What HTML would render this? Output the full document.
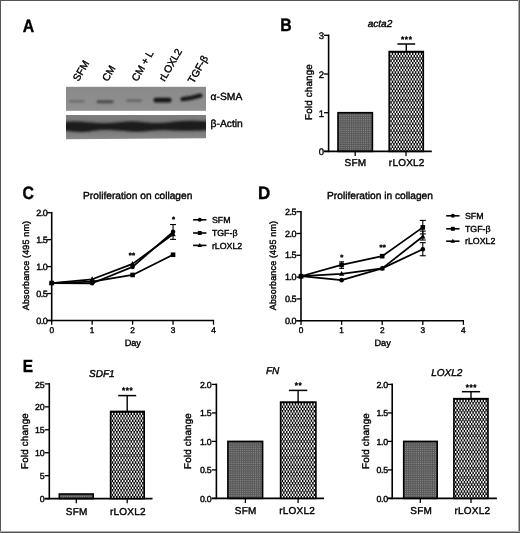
<!DOCTYPE html>
<html lang="en"><head><meta charset="utf-8"><title>Figure</title>
<style>html,body{margin:0;padding:0;background:#fff}svg{display:block}text{font-family:"Liberation Sans",Arial,Helvetica,sans-serif;fill:#000;stroke:#000;stroke-width:0.38px;text-rendering:geometricPrecision}</style></head><body>
<svg width="520" height="533" viewBox="0 0 520 533">
<defs>
<filter id="b1" x="-20%" y="-100%" width="140%" height="300%"><feGaussianBlur stdDeviation="1.1"/></filter>
<filter id="b2" x="-20%" y="-100%" width="140%" height="300%"><feGaussianBlur stdDeviation="0.8"/></filter>
<filter id="b3" x="-5%" y="-50%" width="110%" height="200%"><feGaussianBlur stdDeviation="1.0"/></filter>
<linearGradient id="gu" x1="0" y1="0" x2="0" y2="1"><stop offset="0" stop-color="#8a8a8a"/><stop offset="1" stop-color="#909090"/></linearGradient>
<linearGradient id="gl" x1="0" y1="0" x2="0" y2="1"><stop offset="0" stop-color="#7e7e7e"/><stop offset="0.5" stop-color="#707070"/><stop offset="1" stop-color="#8a8a8a"/></linearGradient>
<clipPath id="cu"><rect x="66" y="86.8" width="140" height="24"/></clipPath>
<clipPath id="cl"><path d="M66 115 L206 115 L206 138.3 L66 139.3 Z"/></clipPath>
</defs>
<rect width="520" height="533" fill="#fff"/>
<text transform="translate(22.80 31.80) scale(0.88 1)" font-size="18" font-weight="bold" stroke-width="0.1">A</text>
<rect x="66" y="86.8" width="140" height="24" fill="url(#gu)"/>
<g clip-path="url(#cu)">
<rect x="69" y="100" width="15.5" height="2.6" rx="1.3" fill="#6c6c6c" filter="url(#b1)"/>
<rect x="96.5" y="100.2" width="17" height="3" rx="1.5" fill="#4a4a4a" filter="url(#b1)"/>
<rect x="126" y="99.4" width="16" height="2.4" rx="1.2" fill="#606060" filter="url(#b1)"/>
<rect x="153.5" y="97.8" width="18" height="4.6" rx="2.2" fill="#141414" filter="url(#b2)"/>
<path d="M182.5 99.2 Q191 98.6 200.5 95.6" stroke="#141414" stroke-width="4.2" stroke-linecap="round" fill="none" filter="url(#b2)"/>
</g>
<path d="M66 115 L206 115 L206 138.3 L66 139.3 Z" fill="url(#gl)"/>
<g clip-path="url(#cl)">
<path d="M62 122 Q76 120.8 90 122.4 T118 122.4 T146 122.4 T174 121.8 T210 121.6 L210 130 Q192 131.4 176 130.4 T148 131 T120 130.6 T92 131 T62 130 Z" fill="#1c1c1c" filter="url(#b3)"/>
</g>
<text x="78.60" y="81.90" font-size="10.3" text-anchor="start" font-weight="normal" font-style="normal" transform="rotate(-60 78.60 81.90)">SFM</text>
<text x="107.70" y="81.90" font-size="10.3" text-anchor="start" font-weight="normal" font-style="normal" transform="rotate(-60 107.70 81.90)">CM</text>
<text x="137.20" y="81.90" font-size="10.3" text-anchor="start" font-weight="normal" font-style="normal" transform="rotate(-60 137.20 81.90)">CM + L</text>
<text x="164.60" y="81.90" font-size="10.3" text-anchor="start" font-weight="normal" font-style="normal" transform="rotate(-60 164.60 81.90)">rLOXL2</text>
<text x="193.50" y="84.00" font-size="10.3" text-anchor="start" font-weight="normal" font-style="normal" transform="rotate(-60 193.50 84.00)">TGF-β</text>
<text x="210.60" y="100.00" font-size="10.3" text-anchor="start" font-weight="normal" font-style="normal">α-SMA</text>
<text x="210.60" y="127.40" font-size="10.3" text-anchor="start" font-weight="normal" font-style="normal">β-Actin</text>
<text transform="translate(280.20 31.40) scale(0.88 1)" font-size="18" font-weight="bold" stroke-width="0.1">B</text>
<clipPath id="bc1"><rect x="338.80" y="113.50" width="32.80" height="37.90"/></clipPath>
<rect x="338.00" y="112.70" width="34.40" height="38.70" fill="#5a5a5a" stroke="#000" stroke-width="1.6"/>
<g clip-path="url(#bc1)" stroke="#939393" stroke-width="1.1" stroke-linecap="round" stroke-dasharray="0 2.15">
<line x1="337.62" y1="115.33" x2="375.35" y2="115.33"/>
<line x1="337.62" y1="117.48" x2="375.35" y2="117.48"/>
<line x1="337.62" y1="119.63" x2="375.35" y2="119.63"/>
<line x1="337.62" y1="121.78" x2="375.35" y2="121.78"/>
<line x1="337.62" y1="123.93" x2="375.35" y2="123.93"/>
<line x1="337.62" y1="126.08" x2="375.35" y2="126.08"/>
<line x1="337.62" y1="128.23" x2="375.35" y2="128.23"/>
<line x1="337.62" y1="130.38" x2="375.35" y2="130.38"/>
<line x1="337.62" y1="132.53" x2="375.35" y2="132.53"/>
<line x1="337.62" y1="134.68" x2="375.35" y2="134.68"/>
<line x1="337.62" y1="136.83" x2="375.35" y2="136.83"/>
<line x1="337.62" y1="138.98" x2="375.35" y2="138.98"/>
<line x1="337.62" y1="141.13" x2="375.35" y2="141.13"/>
<line x1="337.62" y1="143.28" x2="375.35" y2="143.28"/>
<line x1="337.62" y1="145.43" x2="375.35" y2="145.43"/>
<line x1="337.62" y1="147.58" x2="375.35" y2="147.58"/>
<line x1="337.62" y1="149.73" x2="375.35" y2="149.73"/>
<line x1="337.62" y1="151.88" x2="375.35" y2="151.88"/>
</g>
<clipPath id="bc2"><rect x="390.00" y="52.35" width="32.50" height="99.05"/></clipPath>
<rect x="389.20" y="51.55" width="34.10" height="99.85" fill="#000" stroke="#000" stroke-width="1.6"/>
<g clip-path="url(#bc2)" stroke="#fff" stroke-width="2.20" stroke-dasharray="1.450 1.450">
<line x1="387.40" y1="53.86" x2="427.00" y2="53.86"/>
<line x1="388.85" y1="56.18" x2="427.00" y2="56.18"/>
<line x1="387.40" y1="58.50" x2="427.00" y2="58.50"/>
<line x1="388.85" y1="60.82" x2="427.00" y2="60.82"/>
<line x1="387.40" y1="63.14" x2="427.00" y2="63.14"/>
<line x1="388.85" y1="65.46" x2="427.00" y2="65.46"/>
<line x1="387.40" y1="67.78" x2="427.00" y2="67.78"/>
<line x1="388.85" y1="70.10" x2="427.00" y2="70.10"/>
<line x1="387.40" y1="72.42" x2="427.00" y2="72.42"/>
<line x1="388.85" y1="74.74" x2="427.00" y2="74.74"/>
<line x1="387.40" y1="77.06" x2="427.00" y2="77.06"/>
<line x1="388.85" y1="79.38" x2="427.00" y2="79.38"/>
<line x1="387.40" y1="81.70" x2="427.00" y2="81.70"/>
<line x1="388.85" y1="84.02" x2="427.00" y2="84.02"/>
<line x1="387.40" y1="86.34" x2="427.00" y2="86.34"/>
<line x1="388.85" y1="88.66" x2="427.00" y2="88.66"/>
<line x1="387.40" y1="90.98" x2="427.00" y2="90.98"/>
<line x1="388.85" y1="93.30" x2="427.00" y2="93.30"/>
<line x1="387.40" y1="95.62" x2="427.00" y2="95.62"/>
<line x1="388.85" y1="97.94" x2="427.00" y2="97.94"/>
<line x1="387.40" y1="100.26" x2="427.00" y2="100.26"/>
<line x1="388.85" y1="102.58" x2="427.00" y2="102.58"/>
<line x1="387.40" y1="104.90" x2="427.00" y2="104.90"/>
<line x1="388.85" y1="107.22" x2="427.00" y2="107.22"/>
<line x1="387.40" y1="109.54" x2="427.00" y2="109.54"/>
<line x1="388.85" y1="111.86" x2="427.00" y2="111.86"/>
<line x1="387.40" y1="114.18" x2="427.00" y2="114.18"/>
<line x1="388.85" y1="116.50" x2="427.00" y2="116.50"/>
<line x1="387.40" y1="118.82" x2="427.00" y2="118.82"/>
<line x1="388.85" y1="121.14" x2="427.00" y2="121.14"/>
<line x1="387.40" y1="123.46" x2="427.00" y2="123.46"/>
<line x1="388.85" y1="125.78" x2="427.00" y2="125.78"/>
<line x1="387.40" y1="128.10" x2="427.00" y2="128.10"/>
<line x1="388.85" y1="130.42" x2="427.00" y2="130.42"/>
<line x1="387.40" y1="132.74" x2="427.00" y2="132.74"/>
<line x1="388.85" y1="135.06" x2="427.00" y2="135.06"/>
<line x1="387.40" y1="137.38" x2="427.00" y2="137.38"/>
<line x1="388.85" y1="139.70" x2="427.00" y2="139.70"/>
<line x1="387.40" y1="142.02" x2="427.00" y2="142.02"/>
<line x1="388.85" y1="144.34" x2="427.00" y2="144.34"/>
<line x1="387.40" y1="146.66" x2="427.00" y2="146.66"/>
<line x1="388.85" y1="148.98" x2="427.00" y2="148.98"/>
<line x1="387.40" y1="151.30" x2="427.00" y2="151.30"/>
<line x1="388.85" y1="153.62" x2="427.00" y2="153.62"/>
</g>
<line x1="406.30" y1="44.00" x2="406.30" y2="51.60" stroke="#000" stroke-width="1.4" stroke-linecap="butt"/>
<line x1="397.40" y1="44.00" x2="415.20" y2="44.00" stroke="#000" stroke-width="1.5" stroke-linecap="butt"/>
<text x="406.77" y="42.14" font-size="8.0" text-anchor="middle" font-weight="bold" font-style="normal" letter-spacing="0.65" stroke-width="0.7">***</text>
<line x1="328.60" y1="34.50" x2="328.60" y2="152.20" stroke="#000" stroke-width="1.6" stroke-linecap="butt"/>
<line x1="324.00" y1="151.40" x2="431.80" y2="151.40" stroke="#000" stroke-width="1.6" stroke-linecap="butt"/>
<line x1="324.00" y1="151.40" x2="328.60" y2="151.40" stroke="#000" stroke-width="1.3" stroke-linecap="butt"/>
<text x="324.00" y="155.25" font-size="9.5" text-anchor="end" font-weight="normal" font-style="normal">0</text>
<line x1="324.00" y1="112.70" x2="328.60" y2="112.70" stroke="#000" stroke-width="1.3" stroke-linecap="butt"/>
<text x="324.00" y="116.55" font-size="9.5" text-anchor="end" font-weight="normal" font-style="normal">1</text>
<line x1="324.00" y1="74.00" x2="328.60" y2="74.00" stroke="#000" stroke-width="1.3" stroke-linecap="butt"/>
<text x="324.00" y="77.85" font-size="9.5" text-anchor="end" font-weight="normal" font-style="normal">2</text>
<line x1="324.00" y1="35.30" x2="328.60" y2="35.30" stroke="#000" stroke-width="1.3" stroke-linecap="butt"/>
<text x="324.00" y="39.15" font-size="9.5" text-anchor="end" font-weight="normal" font-style="normal">3</text>
<line x1="355.20" y1="151.40" x2="355.20" y2="156.00" stroke="#000" stroke-width="1.3" stroke-linecap="butt"/>
<text x="355.40" y="166.40" font-size="10" text-anchor="middle" font-weight="normal" font-style="normal" letter-spacing="0.2">SFM</text>
<line x1="406.00" y1="151.40" x2="406.00" y2="156.00" stroke="#000" stroke-width="1.3" stroke-linecap="butt"/>
<text x="406.70" y="166.40" font-size="10" text-anchor="middle" font-weight="normal" font-style="normal" letter-spacing="0.2">rLOXL2</text>
<text x="380.00" y="26.60" font-size="10" text-anchor="middle" font-weight="normal" font-style="italic">acta2</text>
<text x="312.00" y="92.00" font-size="9.8" text-anchor="middle" font-weight="normal" font-style="normal" transform="rotate(-90 312.00 92.00)" letter-spacing="0.17">Fold change</text>
<text transform="translate(22.40 199.40) scale(0.88 1)" font-size="18" font-weight="bold" stroke-width="0.1">C</text>
<line x1="51.70" y1="211.90" x2="51.70" y2="321.30" stroke="#000" stroke-width="1.6" stroke-linecap="butt"/>
<line x1="47.10" y1="320.50" x2="214.10" y2="320.50" stroke="#000" stroke-width="1.6" stroke-linecap="butt"/>
<line x1="47.10" y1="320.50" x2="51.70" y2="320.50" stroke="#000" stroke-width="1.3" stroke-linecap="butt"/>
<text x="47.20" y="323.60" font-size="9.0" text-anchor="end" font-weight="normal" font-style="normal" letter-spacing="-0.55">0.0</text>
<line x1="47.10" y1="293.55" x2="51.70" y2="293.55" stroke="#000" stroke-width="1.3" stroke-linecap="butt"/>
<text x="47.20" y="296.65" font-size="9.0" text-anchor="end" font-weight="normal" font-style="normal" letter-spacing="-0.55">0.5</text>
<line x1="47.10" y1="266.60" x2="51.70" y2="266.60" stroke="#000" stroke-width="1.3" stroke-linecap="butt"/>
<text x="47.20" y="269.70" font-size="9.0" text-anchor="end" font-weight="normal" font-style="normal" letter-spacing="-0.55">1.0</text>
<line x1="47.10" y1="239.65" x2="51.70" y2="239.65" stroke="#000" stroke-width="1.3" stroke-linecap="butt"/>
<text x="47.20" y="242.75" font-size="9.0" text-anchor="end" font-weight="normal" font-style="normal" letter-spacing="-0.55">1.5</text>
<line x1="47.10" y1="212.70" x2="51.70" y2="212.70" stroke="#000" stroke-width="1.3" stroke-linecap="butt"/>
<text x="47.20" y="215.80" font-size="9.0" text-anchor="end" font-weight="normal" font-style="normal" letter-spacing="-0.55">2.0</text>
<line x1="51.70" y1="320.50" x2="51.70" y2="324.70" stroke="#000" stroke-width="1.3" stroke-linecap="butt"/>
<text x="51.70" y="333.10" font-size="8.3" text-anchor="middle" font-weight="normal" font-style="normal">0</text>
<line x1="92.15" y1="320.50" x2="92.15" y2="324.70" stroke="#000" stroke-width="1.3" stroke-linecap="butt"/>
<text x="92.15" y="333.10" font-size="8.3" text-anchor="middle" font-weight="normal" font-style="normal">1</text>
<line x1="132.60" y1="320.50" x2="132.60" y2="324.70" stroke="#000" stroke-width="1.3" stroke-linecap="butt"/>
<text x="132.60" y="333.10" font-size="8.3" text-anchor="middle" font-weight="normal" font-style="normal">2</text>
<line x1="173.05" y1="320.50" x2="173.05" y2="324.70" stroke="#000" stroke-width="1.3" stroke-linecap="butt"/>
<text x="173.05" y="333.10" font-size="8.3" text-anchor="middle" font-weight="normal" font-style="normal">3</text>
<line x1="213.50" y1="320.50" x2="213.50" y2="324.70" stroke="#000" stroke-width="1.3" stroke-linecap="butt"/>
<text x="213.50" y="333.10" font-size="8.3" text-anchor="middle" font-weight="normal" font-style="normal">4</text>
<polyline points="51.70,283.04 92.15,281.69 132.60,274.95 173.05,254.74" fill="none" stroke="#000" stroke-width="1.75" stroke-linejoin="round"/>
<polyline points="51.70,283.04 92.15,283.31 132.60,266.87 173.05,231.83" fill="none" stroke="#000" stroke-width="1.75" stroke-linejoin="round"/>
<polyline points="51.70,283.04 92.15,279.27 132.60,263.90 173.05,234.26" fill="none" stroke="#000" stroke-width="1.75" stroke-linejoin="round"/>
<line x1="173.05" y1="224.56" x2="173.05" y2="239.38" stroke="#000" stroke-width="1.1" stroke-linecap="butt"/>
<line x1="170.05" y1="224.56" x2="176.05" y2="224.56" stroke="#000" stroke-width="1.1" stroke-linecap="butt"/>
<line x1="170.05" y1="239.38" x2="176.05" y2="239.38" stroke="#000" stroke-width="1.1" stroke-linecap="butt"/>
<rect x="49.40" y="280.74" width="4.60" height="4.60" fill="#000"/>
<rect x="89.85" y="279.39" width="4.60" height="4.60" fill="#000"/>
<rect x="130.30" y="272.65" width="4.60" height="4.60" fill="#000"/>
<rect x="170.75" y="252.44" width="4.60" height="4.60" fill="#000"/>
<circle cx="51.70" cy="283.04" r="2.30" fill="#000"/>
<circle cx="92.15" cy="283.31" r="2.30" fill="#000"/>
<circle cx="132.60" cy="266.87" r="2.30" fill="#000"/>
<circle cx="173.05" cy="231.83" r="2.30" fill="#000"/>
<path d="M51.70 280.14 L54.40 284.94 L49.00 284.94 Z" fill="#000"/>
<path d="M92.15 276.37 L94.85 281.17 L89.45 281.17 Z" fill="#000"/>
<path d="M132.60 261.00 L135.30 265.80 L129.90 265.80 Z" fill="#000"/>
<path d="M173.05 231.36 L175.75 236.16 L170.35 236.16 Z" fill="#000"/>
<text x="132.13" y="257.75" font-size="7.8" text-anchor="middle" font-weight="bold" font-style="normal" letter-spacing="0.37" stroke-width="0.7">**</text>
<text x="173.63" y="221.65" font-size="7.8" text-anchor="middle" font-weight="bold" font-style="normal" letter-spacing="0.37" stroke-width="0.7">*</text>
<text x="137.70" y="198.80" font-size="10.2" text-anchor="middle" font-weight="normal" font-style="normal">Proliferation on collagen</text>
<text x="28.90" y="265.50" font-size="9.0" text-anchor="middle" font-weight="normal" font-style="normal" transform="rotate(-90 28.90 265.50)" letter-spacing="0.15">Absorbance (495 nm)</text>
<text x="132.80" y="346.20" font-size="9.2" text-anchor="middle" font-weight="normal" font-style="normal">Day</text>
<line x1="193.10" y1="219.80" x2="206.40" y2="219.80" stroke="#000" stroke-width="1.6" stroke-linecap="butt"/>
<circle cx="199.75" cy="219.80" r="1.95" fill="#000"/>
<text x="211.90" y="222.90" font-size="8.8" text-anchor="start" font-weight="normal" font-style="normal">SFM</text>
<line x1="193.10" y1="233.00" x2="206.40" y2="233.00" stroke="#000" stroke-width="1.6" stroke-linecap="butt"/>
<rect x="197.79" y="231.04" width="3.91" height="3.91" fill="#000"/>
<text x="211.90" y="236.10" font-size="8.8" text-anchor="start" font-weight="normal" font-style="normal">TGF-β</text>
<line x1="193.10" y1="245.40" x2="206.40" y2="245.40" stroke="#000" stroke-width="1.6" stroke-linecap="butt"/>
<path d="M199.75 242.94 L202.04 247.02 L197.46 247.02 Z" fill="#000"/>
<text x="211.90" y="248.50" font-size="8.8" text-anchor="start" font-weight="normal" font-style="normal">rLOXL2</text>
<text transform="translate(257.90 199.20) scale(0.94 1)" font-size="18" font-weight="bold" stroke-width="0.1">D</text>
<line x1="301.00" y1="210.90" x2="301.00" y2="321.50" stroke="#000" stroke-width="1.6" stroke-linecap="butt"/>
<line x1="296.40" y1="320.70" x2="464.00" y2="320.70" stroke="#000" stroke-width="1.6" stroke-linecap="butt"/>
<line x1="296.40" y1="320.70" x2="301.00" y2="320.70" stroke="#000" stroke-width="1.3" stroke-linecap="butt"/>
<text x="295.90" y="323.80" font-size="9.0" text-anchor="end" font-weight="normal" font-style="normal" letter-spacing="-0.55">0.0</text>
<line x1="296.40" y1="298.90" x2="301.00" y2="298.90" stroke="#000" stroke-width="1.3" stroke-linecap="butt"/>
<text x="295.90" y="302.00" font-size="9.0" text-anchor="end" font-weight="normal" font-style="normal" letter-spacing="-0.55">0.5</text>
<line x1="296.40" y1="277.10" x2="301.00" y2="277.10" stroke="#000" stroke-width="1.3" stroke-linecap="butt"/>
<text x="295.90" y="280.20" font-size="9.0" text-anchor="end" font-weight="normal" font-style="normal" letter-spacing="-0.55">1.0</text>
<line x1="296.40" y1="255.30" x2="301.00" y2="255.30" stroke="#000" stroke-width="1.3" stroke-linecap="butt"/>
<text x="295.90" y="258.40" font-size="9.0" text-anchor="end" font-weight="normal" font-style="normal" letter-spacing="-0.55">1.5</text>
<line x1="296.40" y1="233.50" x2="301.00" y2="233.50" stroke="#000" stroke-width="1.3" stroke-linecap="butt"/>
<text x="295.90" y="236.60" font-size="9.0" text-anchor="end" font-weight="normal" font-style="normal" letter-spacing="-0.55">2.0</text>
<line x1="296.40" y1="211.70" x2="301.00" y2="211.70" stroke="#000" stroke-width="1.3" stroke-linecap="butt"/>
<text x="295.90" y="214.80" font-size="9.0" text-anchor="end" font-weight="normal" font-style="normal" letter-spacing="-0.55">2.5</text>
<line x1="301.00" y1="320.70" x2="301.00" y2="324.90" stroke="#000" stroke-width="1.3" stroke-linecap="butt"/>
<text x="301.00" y="333.30" font-size="8.3" text-anchor="middle" font-weight="normal" font-style="normal">0</text>
<line x1="341.60" y1="320.70" x2="341.60" y2="324.90" stroke="#000" stroke-width="1.3" stroke-linecap="butt"/>
<text x="341.60" y="333.30" font-size="8.3" text-anchor="middle" font-weight="normal" font-style="normal">1</text>
<line x1="382.20" y1="320.70" x2="382.20" y2="324.90" stroke="#000" stroke-width="1.3" stroke-linecap="butt"/>
<text x="382.20" y="333.30" font-size="8.3" text-anchor="middle" font-weight="normal" font-style="normal">2</text>
<line x1="422.80" y1="320.70" x2="422.80" y2="324.90" stroke="#000" stroke-width="1.3" stroke-linecap="butt"/>
<text x="422.80" y="333.30" font-size="8.3" text-anchor="middle" font-weight="normal" font-style="normal">3</text>
<line x1="463.40" y1="320.70" x2="463.40" y2="324.90" stroke="#000" stroke-width="1.3" stroke-linecap="butt"/>
<text x="463.40" y="333.30" font-size="8.3" text-anchor="middle" font-weight="normal" font-style="normal">4</text>
<polyline points="301.00,276.23 341.60,280.15 382.20,268.38 422.80,249.20" fill="none" stroke="#000" stroke-width="1.75" stroke-linejoin="round"/>
<polyline points="301.00,276.23 341.60,264.89 382.20,256.17 422.80,227.40" fill="none" stroke="#000" stroke-width="1.75" stroke-linejoin="round"/>
<polyline points="301.00,276.23 341.60,273.83 382.20,268.38 422.80,236.55" fill="none" stroke="#000" stroke-width="1.75" stroke-linejoin="round"/>
<line x1="341.60" y1="261.84" x2="341.60" y2="268.38" stroke="#000" stroke-width="1.1" stroke-linecap="butt"/>
<line x1="339.20" y1="261.84" x2="344.00" y2="261.84" stroke="#000" stroke-width="1.1" stroke-linecap="butt"/>
<line x1="339.20" y1="268.38" x2="344.00" y2="268.38" stroke="#000" stroke-width="1.1" stroke-linecap="butt"/>
<line x1="422.80" y1="220.42" x2="422.80" y2="233.94" stroke="#000" stroke-width="1.1" stroke-linecap="butt"/>
<line x1="419.80" y1="220.42" x2="425.80" y2="220.42" stroke="#000" stroke-width="1.1" stroke-linecap="butt"/>
<line x1="419.80" y1="233.94" x2="425.80" y2="233.94" stroke="#000" stroke-width="1.1" stroke-linecap="butt"/>
<line x1="422.80" y1="231.10" x2="422.80" y2="240.04" stroke="#000" stroke-width="1.1" stroke-linecap="butt"/>
<line x1="419.80" y1="231.10" x2="425.80" y2="231.10" stroke="#000" stroke-width="1.1" stroke-linecap="butt"/>
<line x1="419.80" y1="240.04" x2="425.80" y2="240.04" stroke="#000" stroke-width="1.1" stroke-linecap="butt"/>
<line x1="422.80" y1="242.66" x2="422.80" y2="255.74" stroke="#000" stroke-width="1.1" stroke-linecap="butt"/>
<line x1="419.80" y1="242.66" x2="425.80" y2="242.66" stroke="#000" stroke-width="1.1" stroke-linecap="butt"/>
<line x1="419.80" y1="255.74" x2="425.80" y2="255.74" stroke="#000" stroke-width="1.1" stroke-linecap="butt"/>
<circle cx="301.00" cy="276.23" r="2.30" fill="#000"/>
<circle cx="341.60" cy="280.15" r="2.30" fill="#000"/>
<circle cx="382.20" cy="268.38" r="2.30" fill="#000"/>
<circle cx="422.80" cy="249.20" r="2.30" fill="#000"/>
<rect x="298.70" y="273.93" width="4.60" height="4.60" fill="#000"/>
<rect x="339.30" y="262.59" width="4.60" height="4.60" fill="#000"/>
<rect x="379.90" y="253.87" width="4.60" height="4.60" fill="#000"/>
<rect x="420.50" y="225.10" width="4.60" height="4.60" fill="#000"/>
<path d="M301.00 273.33 L303.70 278.13 L298.30 278.13 Z" fill="#000"/>
<path d="M341.60 270.93 L344.30 275.73 L338.90 275.73 Z" fill="#000"/>
<path d="M382.20 265.48 L384.90 270.28 L379.50 270.28 Z" fill="#000"/>
<path d="M422.80 233.65 L425.50 238.45 L420.10 238.45 Z" fill="#000"/>
<text x="342.03" y="260.05" font-size="7.8" text-anchor="middle" font-weight="bold" font-style="normal" letter-spacing="0.37" stroke-width="0.7">*</text>
<text x="382.83" y="250.45" font-size="7.8" text-anchor="middle" font-weight="bold" font-style="normal" letter-spacing="0.37" stroke-width="0.7">**</text>
<text x="380.00" y="198.70" font-size="10.2" text-anchor="middle" font-weight="normal" font-style="normal">Proliferation in collagen</text>
<text x="276.40" y="265.50" font-size="9.0" text-anchor="middle" font-weight="normal" font-style="normal" transform="rotate(-90 276.40 265.50)" letter-spacing="0.15">Absorbance (495 nm)</text>
<text x="382.60" y="346.40" font-size="9.2" text-anchor="middle" font-weight="normal" font-style="normal">Day</text>
<line x1="446.20" y1="215.80" x2="459.50" y2="215.80" stroke="#000" stroke-width="1.6" stroke-linecap="butt"/>
<circle cx="452.85" cy="215.80" r="1.95" fill="#000"/>
<text x="465.00" y="218.90" font-size="8.8" text-anchor="start" font-weight="normal" font-style="normal">SFM</text>
<line x1="446.20" y1="228.80" x2="459.50" y2="228.80" stroke="#000" stroke-width="1.6" stroke-linecap="butt"/>
<rect x="450.89" y="226.84" width="3.91" height="3.91" fill="#000"/>
<text x="465.00" y="231.90" font-size="8.8" text-anchor="start" font-weight="normal" font-style="normal">TGF-β</text>
<line x1="446.20" y1="241.20" x2="459.50" y2="241.20" stroke="#000" stroke-width="1.6" stroke-linecap="butt"/>
<path d="M452.85 238.73 L455.14 242.81 L450.55 242.81 Z" fill="#000"/>
<text x="465.00" y="244.30" font-size="8.8" text-anchor="start" font-weight="normal" font-style="normal">rLOXL2</text>
<text transform="translate(22.70 371.90) scale(0.88 1)" font-size="17.5" font-weight="bold" stroke-width="0.1">E</text>
<clipPath id="bc3"><rect x="60.10" y="494.81" width="32.30" height="3.79"/></clipPath>
<rect x="59.30" y="494.01" width="33.90" height="4.59" fill="#5a5a5a" stroke="#000" stroke-width="1.6"/>
<g clip-path="url(#bc3)" stroke="#939393" stroke-width="1.1" stroke-linecap="round" stroke-dasharray="0 2.15">
<line x1="58.92" y1="496.64" x2="96.15" y2="496.64"/>
<line x1="58.92" y1="498.79" x2="96.15" y2="498.79"/>
</g>
<clipPath id="bc4"><rect x="111.40" y="412.23" width="32.00" height="86.37"/></clipPath>
<rect x="110.60" y="411.43" width="33.60" height="87.17" fill="#000" stroke="#000" stroke-width="1.6"/>
<g clip-path="url(#bc4)" stroke="#fff" stroke-width="2.20" stroke-dasharray="1.450 1.450">
<line x1="108.80" y1="413.74" x2="147.90" y2="413.74"/>
<line x1="110.25" y1="416.06" x2="147.90" y2="416.06"/>
<line x1="108.80" y1="418.38" x2="147.90" y2="418.38"/>
<line x1="110.25" y1="420.70" x2="147.90" y2="420.70"/>
<line x1="108.80" y1="423.02" x2="147.90" y2="423.02"/>
<line x1="110.25" y1="425.34" x2="147.90" y2="425.34"/>
<line x1="108.80" y1="427.66" x2="147.90" y2="427.66"/>
<line x1="110.25" y1="429.98" x2="147.90" y2="429.98"/>
<line x1="108.80" y1="432.30" x2="147.90" y2="432.30"/>
<line x1="110.25" y1="434.62" x2="147.90" y2="434.62"/>
<line x1="108.80" y1="436.94" x2="147.90" y2="436.94"/>
<line x1="110.25" y1="439.26" x2="147.90" y2="439.26"/>
<line x1="108.80" y1="441.58" x2="147.90" y2="441.58"/>
<line x1="110.25" y1="443.90" x2="147.90" y2="443.90"/>
<line x1="108.80" y1="446.22" x2="147.90" y2="446.22"/>
<line x1="110.25" y1="448.54" x2="147.90" y2="448.54"/>
<line x1="108.80" y1="450.86" x2="147.90" y2="450.86"/>
<line x1="110.25" y1="453.18" x2="147.90" y2="453.18"/>
<line x1="108.80" y1="455.50" x2="147.90" y2="455.50"/>
<line x1="110.25" y1="457.82" x2="147.90" y2="457.82"/>
<line x1="108.80" y1="460.14" x2="147.90" y2="460.14"/>
<line x1="110.25" y1="462.46" x2="147.90" y2="462.46"/>
<line x1="108.80" y1="464.78" x2="147.90" y2="464.78"/>
<line x1="110.25" y1="467.10" x2="147.90" y2="467.10"/>
<line x1="108.80" y1="469.42" x2="147.90" y2="469.42"/>
<line x1="110.25" y1="471.74" x2="147.90" y2="471.74"/>
<line x1="108.80" y1="474.06" x2="147.90" y2="474.06"/>
<line x1="110.25" y1="476.38" x2="147.90" y2="476.38"/>
<line x1="108.80" y1="478.70" x2="147.90" y2="478.70"/>
<line x1="110.25" y1="481.02" x2="147.90" y2="481.02"/>
<line x1="108.80" y1="483.34" x2="147.90" y2="483.34"/>
<line x1="110.25" y1="485.66" x2="147.90" y2="485.66"/>
<line x1="108.80" y1="487.98" x2="147.90" y2="487.98"/>
<line x1="110.25" y1="490.30" x2="147.90" y2="490.30"/>
<line x1="108.80" y1="492.62" x2="147.90" y2="492.62"/>
<line x1="110.25" y1="494.94" x2="147.90" y2="494.94"/>
<line x1="108.80" y1="497.26" x2="147.90" y2="497.26"/>
<line x1="110.25" y1="499.58" x2="147.90" y2="499.58"/>
</g>
<line x1="127.20" y1="395.60" x2="127.20" y2="411.50" stroke="#000" stroke-width="1.4" stroke-linecap="butt"/>
<line x1="118.20" y1="395.60" x2="136.20" y2="395.60" stroke="#000" stroke-width="1.5" stroke-linecap="butt"/>
<text x="127.67" y="393.24" font-size="8.0" text-anchor="middle" font-weight="bold" font-style="normal" letter-spacing="0.65" stroke-width="0.7">***</text>
<line x1="49.30" y1="383.10" x2="49.30" y2="499.40" stroke="#000" stroke-width="1.6" stroke-linecap="butt"/>
<line x1="44.70" y1="498.60" x2="152.50" y2="498.60" stroke="#000" stroke-width="1.6" stroke-linecap="butt"/>
<line x1="44.70" y1="498.60" x2="49.30" y2="498.60" stroke="#000" stroke-width="1.3" stroke-linecap="butt"/>
<text x="44.70" y="502.24" font-size="8.8" text-anchor="end" font-weight="normal" font-style="normal">0</text>
<line x1="44.70" y1="475.66" x2="49.30" y2="475.66" stroke="#000" stroke-width="1.3" stroke-linecap="butt"/>
<text x="44.70" y="479.30" font-size="8.8" text-anchor="end" font-weight="normal" font-style="normal">5</text>
<line x1="44.70" y1="452.72" x2="49.30" y2="452.72" stroke="#000" stroke-width="1.3" stroke-linecap="butt"/>
<text x="44.70" y="456.36" font-size="8.8" text-anchor="end" font-weight="normal" font-style="normal">10</text>
<line x1="44.70" y1="429.78" x2="49.30" y2="429.78" stroke="#000" stroke-width="1.3" stroke-linecap="butt"/>
<text x="44.70" y="433.42" font-size="8.8" text-anchor="end" font-weight="normal" font-style="normal">15</text>
<line x1="44.70" y1="406.84" x2="49.30" y2="406.84" stroke="#000" stroke-width="1.3" stroke-linecap="butt"/>
<text x="44.70" y="410.48" font-size="8.8" text-anchor="end" font-weight="normal" font-style="normal">20</text>
<line x1="44.70" y1="383.90" x2="49.30" y2="383.90" stroke="#000" stroke-width="1.3" stroke-linecap="butt"/>
<text x="44.70" y="387.54" font-size="8.8" text-anchor="end" font-weight="normal" font-style="normal">25</text>
<line x1="76.30" y1="498.60" x2="76.30" y2="503.20" stroke="#000" stroke-width="1.3" stroke-linecap="butt"/>
<text x="76.70" y="514.50" font-size="10" text-anchor="middle" font-weight="normal" font-style="normal" letter-spacing="0.2">SFM</text>
<line x1="127.20" y1="498.60" x2="127.20" y2="503.20" stroke="#000" stroke-width="1.3" stroke-linecap="butt"/>
<text x="127.90" y="514.50" font-size="10" text-anchor="middle" font-weight="normal" font-style="normal" letter-spacing="0.2">rLOXL2</text>
<text x="101.90" y="376.70" font-size="10" text-anchor="middle" font-weight="normal" font-style="italic">SDF1</text>
<text x="28.30" y="441.00" font-size="9.8" text-anchor="middle" font-weight="normal" font-style="normal" transform="rotate(-90 28.30 441.00)" letter-spacing="0.17">Fold change</text>
<clipPath id="bc5"><rect x="228.70" y="442.20" width="33.10" height="56.20"/></clipPath>
<rect x="227.90" y="441.40" width="34.70" height="57.00" fill="#5a5a5a" stroke="#000" stroke-width="1.6"/>
<g clip-path="url(#bc5)" stroke="#939393" stroke-width="1.1" stroke-linecap="round" stroke-dasharray="0 2.15">
<line x1="227.52" y1="444.03" x2="265.55" y2="444.03"/>
<line x1="227.52" y1="446.18" x2="265.55" y2="446.18"/>
<line x1="227.52" y1="448.33" x2="265.55" y2="448.33"/>
<line x1="227.52" y1="450.48" x2="265.55" y2="450.48"/>
<line x1="227.52" y1="452.63" x2="265.55" y2="452.63"/>
<line x1="227.52" y1="454.78" x2="265.55" y2="454.78"/>
<line x1="227.52" y1="456.93" x2="265.55" y2="456.93"/>
<line x1="227.52" y1="459.08" x2="265.55" y2="459.08"/>
<line x1="227.52" y1="461.23" x2="265.55" y2="461.23"/>
<line x1="227.52" y1="463.38" x2="265.55" y2="463.38"/>
<line x1="227.52" y1="465.53" x2="265.55" y2="465.53"/>
<line x1="227.52" y1="467.68" x2="265.55" y2="467.68"/>
<line x1="227.52" y1="469.83" x2="265.55" y2="469.83"/>
<line x1="227.52" y1="471.98" x2="265.55" y2="471.98"/>
<line x1="227.52" y1="474.13" x2="265.55" y2="474.13"/>
<line x1="227.52" y1="476.28" x2="265.55" y2="476.28"/>
<line x1="227.52" y1="478.43" x2="265.55" y2="478.43"/>
<line x1="227.52" y1="480.58" x2="265.55" y2="480.58"/>
<line x1="227.52" y1="482.73" x2="265.55" y2="482.73"/>
<line x1="227.52" y1="484.88" x2="265.55" y2="484.88"/>
<line x1="227.52" y1="487.03" x2="265.55" y2="487.03"/>
<line x1="227.52" y1="489.18" x2="265.55" y2="489.18"/>
<line x1="227.52" y1="491.33" x2="265.55" y2="491.33"/>
<line x1="227.52" y1="493.48" x2="265.55" y2="493.48"/>
<line x1="227.52" y1="495.63" x2="265.55" y2="495.63"/>
<line x1="227.52" y1="497.78" x2="265.55" y2="497.78"/>
<line x1="227.52" y1="499.93" x2="265.55" y2="499.93"/>
</g>
<clipPath id="bc6"><rect x="281.40" y="402.87" width="33.70" height="95.53"/></clipPath>
<rect x="280.60" y="402.07" width="35.30" height="96.33" fill="#000" stroke="#000" stroke-width="1.6"/>
<g clip-path="url(#bc6)" stroke="#fff" stroke-width="2.20" stroke-dasharray="1.450 1.450">
<line x1="278.80" y1="404.38" x2="319.60" y2="404.38"/>
<line x1="280.25" y1="406.70" x2="319.60" y2="406.70"/>
<line x1="278.80" y1="409.02" x2="319.60" y2="409.02"/>
<line x1="280.25" y1="411.34" x2="319.60" y2="411.34"/>
<line x1="278.80" y1="413.66" x2="319.60" y2="413.66"/>
<line x1="280.25" y1="415.98" x2="319.60" y2="415.98"/>
<line x1="278.80" y1="418.30" x2="319.60" y2="418.30"/>
<line x1="280.25" y1="420.62" x2="319.60" y2="420.62"/>
<line x1="278.80" y1="422.94" x2="319.60" y2="422.94"/>
<line x1="280.25" y1="425.26" x2="319.60" y2="425.26"/>
<line x1="278.80" y1="427.58" x2="319.60" y2="427.58"/>
<line x1="280.25" y1="429.90" x2="319.60" y2="429.90"/>
<line x1="278.80" y1="432.22" x2="319.60" y2="432.22"/>
<line x1="280.25" y1="434.54" x2="319.60" y2="434.54"/>
<line x1="278.80" y1="436.86" x2="319.60" y2="436.86"/>
<line x1="280.25" y1="439.18" x2="319.60" y2="439.18"/>
<line x1="278.80" y1="441.50" x2="319.60" y2="441.50"/>
<line x1="280.25" y1="443.82" x2="319.60" y2="443.82"/>
<line x1="278.80" y1="446.14" x2="319.60" y2="446.14"/>
<line x1="280.25" y1="448.46" x2="319.60" y2="448.46"/>
<line x1="278.80" y1="450.78" x2="319.60" y2="450.78"/>
<line x1="280.25" y1="453.10" x2="319.60" y2="453.10"/>
<line x1="278.80" y1="455.42" x2="319.60" y2="455.42"/>
<line x1="280.25" y1="457.74" x2="319.60" y2="457.74"/>
<line x1="278.80" y1="460.06" x2="319.60" y2="460.06"/>
<line x1="280.25" y1="462.38" x2="319.60" y2="462.38"/>
<line x1="278.80" y1="464.70" x2="319.60" y2="464.70"/>
<line x1="280.25" y1="467.02" x2="319.60" y2="467.02"/>
<line x1="278.80" y1="469.34" x2="319.60" y2="469.34"/>
<line x1="280.25" y1="471.66" x2="319.60" y2="471.66"/>
<line x1="278.80" y1="473.98" x2="319.60" y2="473.98"/>
<line x1="280.25" y1="476.30" x2="319.60" y2="476.30"/>
<line x1="278.80" y1="478.62" x2="319.60" y2="478.62"/>
<line x1="280.25" y1="480.94" x2="319.60" y2="480.94"/>
<line x1="278.80" y1="483.26" x2="319.60" y2="483.26"/>
<line x1="280.25" y1="485.58" x2="319.60" y2="485.58"/>
<line x1="278.80" y1="487.90" x2="319.60" y2="487.90"/>
<line x1="280.25" y1="490.22" x2="319.60" y2="490.22"/>
<line x1="278.80" y1="492.54" x2="319.60" y2="492.54"/>
<line x1="280.25" y1="494.86" x2="319.60" y2="494.86"/>
<line x1="278.80" y1="497.18" x2="319.60" y2="497.18"/>
<line x1="280.25" y1="499.50" x2="319.60" y2="499.50"/>
</g>
<line x1="298.10" y1="390.40" x2="298.10" y2="402.00" stroke="#000" stroke-width="1.4" stroke-linecap="butt"/>
<line x1="288.90" y1="390.40" x2="307.30" y2="390.40" stroke="#000" stroke-width="1.5" stroke-linecap="butt"/>
<text x="298.57" y="387.84" font-size="8.0" text-anchor="middle" font-weight="bold" font-style="normal" letter-spacing="0.65" stroke-width="0.7">**</text>
<line x1="216.40" y1="383.60" x2="216.40" y2="499.20" stroke="#000" stroke-width="1.6" stroke-linecap="butt"/>
<line x1="211.80" y1="498.40" x2="324.00" y2="498.40" stroke="#000" stroke-width="1.6" stroke-linecap="butt"/>
<line x1="211.80" y1="498.40" x2="216.40" y2="498.40" stroke="#000" stroke-width="1.3" stroke-linecap="butt"/>
<text x="211.30" y="501.59" font-size="8.8" text-anchor="end" font-weight="normal" font-style="normal" letter-spacing="-0.3">0.0</text>
<line x1="211.80" y1="469.90" x2="216.40" y2="469.90" stroke="#000" stroke-width="1.3" stroke-linecap="butt"/>
<text x="211.30" y="473.09" font-size="8.8" text-anchor="end" font-weight="normal" font-style="normal" letter-spacing="-0.3">0.5</text>
<line x1="211.80" y1="441.40" x2="216.40" y2="441.40" stroke="#000" stroke-width="1.3" stroke-linecap="butt"/>
<text x="211.30" y="444.59" font-size="8.8" text-anchor="end" font-weight="normal" font-style="normal" letter-spacing="-0.3">1.0</text>
<line x1="211.80" y1="412.90" x2="216.40" y2="412.90" stroke="#000" stroke-width="1.3" stroke-linecap="butt"/>
<text x="211.30" y="416.09" font-size="8.8" text-anchor="end" font-weight="normal" font-style="normal" letter-spacing="-0.3">1.5</text>
<line x1="211.80" y1="384.40" x2="216.40" y2="384.40" stroke="#000" stroke-width="1.3" stroke-linecap="butt"/>
<text x="211.30" y="387.59" font-size="8.8" text-anchor="end" font-weight="normal" font-style="normal" letter-spacing="-0.3">2.0</text>
<line x1="245.40" y1="498.40" x2="245.40" y2="503.00" stroke="#000" stroke-width="1.3" stroke-linecap="butt"/>
<text x="245.70" y="514.30" font-size="10" text-anchor="middle" font-weight="normal" font-style="normal" letter-spacing="0.2">SFM</text>
<line x1="298.10" y1="498.40" x2="298.10" y2="503.00" stroke="#000" stroke-width="1.3" stroke-linecap="butt"/>
<text x="297.10" y="514.30" font-size="10" text-anchor="middle" font-weight="normal" font-style="normal" letter-spacing="0.2">rLOXL2</text>
<text x="272.60" y="374.40" font-size="10" text-anchor="middle" font-weight="normal" font-style="italic">FN</text>
<text x="191.20" y="441.00" font-size="9.8" text-anchor="middle" font-weight="normal" font-style="normal" transform="rotate(-90 191.20 441.00)" letter-spacing="0.17">Fold change</text>
<clipPath id="bc7"><rect x="404.50" y="442.20" width="31.90" height="56.20"/></clipPath>
<rect x="403.70" y="441.40" width="33.50" height="57.00" fill="#5a5a5a" stroke="#000" stroke-width="1.6"/>
<g clip-path="url(#bc7)" stroke="#939393" stroke-width="1.1" stroke-linecap="round" stroke-dasharray="0 2.15">
<line x1="403.32" y1="444.03" x2="440.15" y2="444.03"/>
<line x1="403.32" y1="446.18" x2="440.15" y2="446.18"/>
<line x1="403.32" y1="448.33" x2="440.15" y2="448.33"/>
<line x1="403.32" y1="450.48" x2="440.15" y2="450.48"/>
<line x1="403.32" y1="452.63" x2="440.15" y2="452.63"/>
<line x1="403.32" y1="454.78" x2="440.15" y2="454.78"/>
<line x1="403.32" y1="456.93" x2="440.15" y2="456.93"/>
<line x1="403.32" y1="459.08" x2="440.15" y2="459.08"/>
<line x1="403.32" y1="461.23" x2="440.15" y2="461.23"/>
<line x1="403.32" y1="463.38" x2="440.15" y2="463.38"/>
<line x1="403.32" y1="465.53" x2="440.15" y2="465.53"/>
<line x1="403.32" y1="467.68" x2="440.15" y2="467.68"/>
<line x1="403.32" y1="469.83" x2="440.15" y2="469.83"/>
<line x1="403.32" y1="471.98" x2="440.15" y2="471.98"/>
<line x1="403.32" y1="474.13" x2="440.15" y2="474.13"/>
<line x1="403.32" y1="476.28" x2="440.15" y2="476.28"/>
<line x1="403.32" y1="478.43" x2="440.15" y2="478.43"/>
<line x1="403.32" y1="480.58" x2="440.15" y2="480.58"/>
<line x1="403.32" y1="482.73" x2="440.15" y2="482.73"/>
<line x1="403.32" y1="484.88" x2="440.15" y2="484.88"/>
<line x1="403.32" y1="487.03" x2="440.15" y2="487.03"/>
<line x1="403.32" y1="489.18" x2="440.15" y2="489.18"/>
<line x1="403.32" y1="491.33" x2="440.15" y2="491.33"/>
<line x1="403.32" y1="493.48" x2="440.15" y2="493.48"/>
<line x1="403.32" y1="495.63" x2="440.15" y2="495.63"/>
<line x1="403.32" y1="497.78" x2="440.15" y2="497.78"/>
<line x1="403.32" y1="499.93" x2="440.15" y2="499.93"/>
</g>
<clipPath id="bc8"><rect x="454.70" y="399.45" width="32.50" height="98.95"/></clipPath>
<rect x="453.90" y="398.65" width="34.10" height="99.75" fill="#000" stroke="#000" stroke-width="1.6"/>
<g clip-path="url(#bc8)" stroke="#fff" stroke-width="2.20" stroke-dasharray="1.450 1.450">
<line x1="452.10" y1="400.96" x2="491.70" y2="400.96"/>
<line x1="453.55" y1="403.28" x2="491.70" y2="403.28"/>
<line x1="452.10" y1="405.60" x2="491.70" y2="405.60"/>
<line x1="453.55" y1="407.92" x2="491.70" y2="407.92"/>
<line x1="452.10" y1="410.24" x2="491.70" y2="410.24"/>
<line x1="453.55" y1="412.56" x2="491.70" y2="412.56"/>
<line x1="452.10" y1="414.88" x2="491.70" y2="414.88"/>
<line x1="453.55" y1="417.20" x2="491.70" y2="417.20"/>
<line x1="452.10" y1="419.52" x2="491.70" y2="419.52"/>
<line x1="453.55" y1="421.84" x2="491.70" y2="421.84"/>
<line x1="452.10" y1="424.16" x2="491.70" y2="424.16"/>
<line x1="453.55" y1="426.48" x2="491.70" y2="426.48"/>
<line x1="452.10" y1="428.80" x2="491.70" y2="428.80"/>
<line x1="453.55" y1="431.12" x2="491.70" y2="431.12"/>
<line x1="452.10" y1="433.44" x2="491.70" y2="433.44"/>
<line x1="453.55" y1="435.76" x2="491.70" y2="435.76"/>
<line x1="452.10" y1="438.08" x2="491.70" y2="438.08"/>
<line x1="453.55" y1="440.40" x2="491.70" y2="440.40"/>
<line x1="452.10" y1="442.72" x2="491.70" y2="442.72"/>
<line x1="453.55" y1="445.04" x2="491.70" y2="445.04"/>
<line x1="452.10" y1="447.36" x2="491.70" y2="447.36"/>
<line x1="453.55" y1="449.68" x2="491.70" y2="449.68"/>
<line x1="452.10" y1="452.00" x2="491.70" y2="452.00"/>
<line x1="453.55" y1="454.32" x2="491.70" y2="454.32"/>
<line x1="452.10" y1="456.64" x2="491.70" y2="456.64"/>
<line x1="453.55" y1="458.96" x2="491.70" y2="458.96"/>
<line x1="452.10" y1="461.28" x2="491.70" y2="461.28"/>
<line x1="453.55" y1="463.60" x2="491.70" y2="463.60"/>
<line x1="452.10" y1="465.92" x2="491.70" y2="465.92"/>
<line x1="453.55" y1="468.24" x2="491.70" y2="468.24"/>
<line x1="452.10" y1="470.56" x2="491.70" y2="470.56"/>
<line x1="453.55" y1="472.88" x2="491.70" y2="472.88"/>
<line x1="452.10" y1="475.20" x2="491.70" y2="475.20"/>
<line x1="453.55" y1="477.52" x2="491.70" y2="477.52"/>
<line x1="452.10" y1="479.84" x2="491.70" y2="479.84"/>
<line x1="453.55" y1="482.16" x2="491.70" y2="482.16"/>
<line x1="452.10" y1="484.48" x2="491.70" y2="484.48"/>
<line x1="453.55" y1="486.80" x2="491.70" y2="486.80"/>
<line x1="452.10" y1="489.12" x2="491.70" y2="489.12"/>
<line x1="453.55" y1="491.44" x2="491.70" y2="491.44"/>
<line x1="452.10" y1="493.76" x2="491.70" y2="493.76"/>
<line x1="453.55" y1="496.08" x2="491.70" y2="496.08"/>
<line x1="452.10" y1="498.40" x2="491.70" y2="498.40"/>
<line x1="453.55" y1="500.72" x2="491.70" y2="500.72"/>
</g>
<line x1="471.00" y1="391.70" x2="471.00" y2="398.60" stroke="#000" stroke-width="1.4" stroke-linecap="butt"/>
<line x1="461.90" y1="391.70" x2="480.10" y2="391.70" stroke="#000" stroke-width="1.5" stroke-linecap="butt"/>
<text x="471.47" y="389.74" font-size="8.0" text-anchor="middle" font-weight="bold" font-style="normal" letter-spacing="0.65" stroke-width="0.7">***</text>
<line x1="392.20" y1="383.60" x2="392.20" y2="499.20" stroke="#000" stroke-width="1.6" stroke-linecap="butt"/>
<line x1="387.60" y1="498.40" x2="496.90" y2="498.40" stroke="#000" stroke-width="1.6" stroke-linecap="butt"/>
<line x1="387.60" y1="498.40" x2="392.20" y2="498.40" stroke="#000" stroke-width="1.3" stroke-linecap="butt"/>
<text x="387.80" y="501.59" font-size="8.8" text-anchor="end" font-weight="normal" font-style="normal" letter-spacing="-0.3">0.0</text>
<line x1="387.60" y1="469.90" x2="392.20" y2="469.90" stroke="#000" stroke-width="1.3" stroke-linecap="butt"/>
<text x="387.80" y="473.09" font-size="8.8" text-anchor="end" font-weight="normal" font-style="normal" letter-spacing="-0.3">0.5</text>
<line x1="387.60" y1="441.40" x2="392.20" y2="441.40" stroke="#000" stroke-width="1.3" stroke-linecap="butt"/>
<text x="387.80" y="444.59" font-size="8.8" text-anchor="end" font-weight="normal" font-style="normal" letter-spacing="-0.3">1.0</text>
<line x1="387.60" y1="412.90" x2="392.20" y2="412.90" stroke="#000" stroke-width="1.3" stroke-linecap="butt"/>
<text x="387.80" y="416.09" font-size="8.8" text-anchor="end" font-weight="normal" font-style="normal" letter-spacing="-0.3">1.5</text>
<line x1="387.60" y1="384.40" x2="392.20" y2="384.40" stroke="#000" stroke-width="1.3" stroke-linecap="butt"/>
<text x="387.80" y="387.59" font-size="8.8" text-anchor="end" font-weight="normal" font-style="normal" letter-spacing="-0.3">2.0</text>
<line x1="420.30" y1="498.40" x2="420.30" y2="503.00" stroke="#000" stroke-width="1.3" stroke-linecap="butt"/>
<text x="421.20" y="514.20" font-size="10" text-anchor="middle" font-weight="normal" font-style="normal" letter-spacing="0.2">SFM</text>
<line x1="471.00" y1="498.40" x2="471.00" y2="503.00" stroke="#000" stroke-width="1.3" stroke-linecap="butt"/>
<text x="472.40" y="514.20" font-size="10" text-anchor="middle" font-weight="normal" font-style="normal" letter-spacing="0.2">rLOXL2</text>
<text x="446.70" y="376.00" font-size="10" text-anchor="middle" font-weight="normal" font-style="italic">LOXL2</text>
<text x="368.90" y="441.00" font-size="9.8" text-anchor="middle" font-weight="normal" font-style="normal" transform="rotate(-90 368.90 441.00)" letter-spacing="0.17">Fold change</text>
<rect x="0" y="0" width="520" height="1" fill="#555"/>
<rect x="0" y="0" width="1" height="533" fill="#555"/>
<rect x="518" y="0" width="1" height="533" fill="#aaa"/>
<rect x="519" y="0" width="1" height="533" fill="#555"/>
<rect x="0" y="531" width="520" height="1" fill="#aaa"/>
<rect x="0" y="532" width="520" height="1" fill="#555"/>
</svg></body></html>
